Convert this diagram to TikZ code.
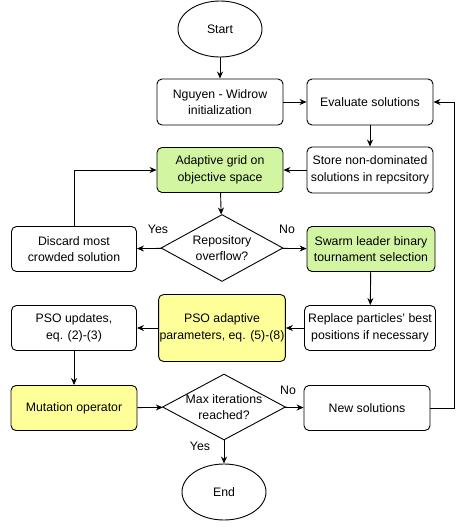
\documentclass[tikz,border=0pt]{standalone}
\usepackage{fontspec}
\setmainfont{Liberation Sans}
\usetikzlibrary{shapes.geometric, arrows.meta}
\definecolor{gridgreen}{HTML}{D2F5A2}
\definecolor{psoyellow}{HTML}{FFFF99}

\tikzset{
  box/.style={draw, rounded corners=5pt, line width=0.9pt, align=center, inner sep=1pt},
  decision/.style={draw, diamond, aspect=1.85, line width=0.9pt, inner sep=0pt},
  terminal/.style={draw, ellipse, line width=0.9pt, minimum width=84pt, minimum height=56pt},
  flow/.style={-{Stealth[length=7pt, width=6pt]}, line width=0.9pt},
}

\begin{document}
\begin{tikzpicture}[x=1pt, y=-1pt, every node/.style={font=\fontsize{12.3}{16.5}\selectfont}]
  \useasboundingbox (0,0) rectangle (474,528);
  % terminals
  \node[terminal] (start) at (220,29) {Start};
  \node[terminal] (finish) at (224,492) {End};
  % first row
  \node[box, minimum width=126pt, minimum height=46pt] (init) at (220,102) {Nguyen - Widrow\\initialization};
  \node[box, minimum width=126pt, minimum height=46pt] (eval) at (370,102) {Evaluate solutions};
  % second row
  \node[box, fill=gridgreen, minimum width=126pt, minimum height=45pt] (grid) at (220,170) {Adaptive grid on\\objective space};
  \node[box, minimum width=126pt, minimum height=46pt] (store) at (370,170) {Store non-dominated\\solutions in repcsitory};
  % third row
  \node[box, minimum width=125pt, minimum height=45pt] (discard) at (74,249) {Discard most\\crowded solution};
  \node[decision, minimum width=122pt, minimum height=67pt,
        label={[align=center]center:Repository\\overflow?}] (overflow) at (222,248) {};
  \node[box, fill=gridgreen, minimum width=128pt, minimum height=45pt] (leader) at (371,249) {Swarm leader binary\\tournament selection};
  % fourth row
  \node[box, minimum width=125pt, minimum height=45pt] (updates) at (74,328) {PSO updates,\\eq. (2)-(3)};
  \node[box, fill=psoyellow, minimum width=126pt, minimum height=67pt] (adaptive) at (222,328) {PSO adaptive\\parameters, eq. (5)-(8)};
  \node[box, minimum width=131pt, minimum height=45pt] (replace) at (370,328) {Replace particles' best\\positions if necessary};
  % fifth row
  \node[box, fill=psoyellow, minimum width=126pt, minimum height=45pt] (mutation) at (74,408) {Mutation operator};
  \node[decision, minimum width=123pt, minimum height=66pt,
        label={[align=center]center:Max iterations\\reached?}] (maxiter) at (224,407) {};
  \node[box, minimum width=126pt, minimum height=45pt] (newsol) at (367,408) {New solutions};
  % labels
  \node (yes1) at (158,229) {Yes};
  \node (no1) at (287,229) {No};
  \node (no2) at (288,390) {No};
  \node (yes2) at (200,446) {Yes};
  % connectors
  \draw[flow] (start) -- (init);
  \draw[flow] (init) -- (eval);
  \draw[flow] (eval) -- (store);
  \draw[flow] (store) -- (grid);
  \draw[flow] (grid) -- (overflow);
  \draw[flow] (overflow) -- (discard);
  \draw[flow] (overflow) -- (leader);
  \draw[flow] (discard.north) |- (grid.west);
  \draw[flow] (leader) -- (replace);
  \draw[flow] (replace) -- (adaptive);
  \draw[flow] (adaptive) -- (updates);
  \draw[flow] (updates) -- (mutation);
  \draw[flow] (mutation) -- (maxiter);
  \draw[flow] (maxiter) -- (newsol);
  \draw[flow] (maxiter) -- (finish);
  \draw[flow] (newsol.east) -- ++(24,0) |- (eval.east);
\end{tikzpicture}
\end{document}
